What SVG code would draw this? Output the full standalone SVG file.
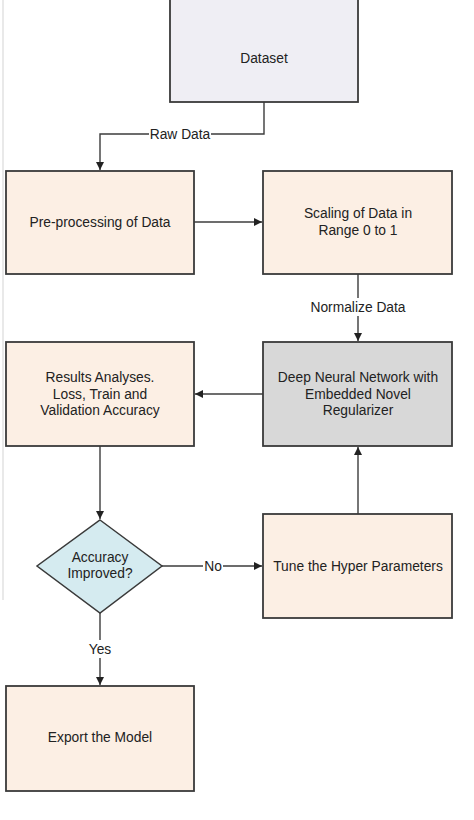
<svg xmlns="http://www.w3.org/2000/svg" width="474" height="820" viewBox="0 0 474 820">
<style>
.box{stroke:#3a3a3a;stroke-width:1.8}
.peach{fill:#fcefe4}
.t{font-family:"Liberation Sans",Arial,sans-serif;font-size:13.8px;fill:#222;text-anchor:middle;dominant-baseline:central}
.c{fill:none;stroke:#3c3c3c;stroke-width:1.4}
.lbl{font-family:"Liberation Sans",Arial,sans-serif;font-size:13.8px;fill:#222;text-anchor:middle;dominant-baseline:central}
</style>
<defs>
<marker id="ah" viewBox="0 0 10 10" refX="10" refY="5" markerWidth="8" markerHeight="8" markerUnits="userSpaceOnUse" orient="auto">
<path d="M0,0 L10,5 L0,10 z" fill="#222"/>
</marker>
</defs>
<rect width="474" height="820" fill="#fff"/>
<line x1="3" y1="0" x2="3" y2="600" stroke="#e2e2e2" stroke-width="1.5"/>
<g id="connectors">
<path class="c" d="M264,102 V134 H211 M149,134 H100 V170" marker-end="url(#ah)"/>
<text class="lbl" x="180" y="134">Raw Data</text>
<path class="c" d="M194,222 H262" marker-end="url(#ah)"/>
<path class="c" d="M358,274 V298 M358,316 V341" marker-end="url(#ah)"/>
<text class="lbl" x="358" y="307">Normalize Data</text>
<path class="c" d="M263,394 H195" marker-end="url(#ah)"/>
<path class="c" d="M100,446 V519" marker-end="url(#ah)"/>
<path class="c" d="M162,566 H203 M223,566 H262" marker-end="url(#ah)"/>
<text class="lbl" x="213" y="566">No</text>
<path class="c" d="M358,514 V447" marker-end="url(#ah)"/>
<path class="c" d="M100,613 V640 M100,658 V685" marker-end="url(#ah)"/>
<text class="lbl" x="100" y="649">Yes</text>
</g>
<g id="dataset">
<rect class="box" x="170" y="-2" width="188" height="104" fill="#efeef4"/>
<text class="t" x="264" y="58">Dataset</text>
</g>
<g id="preprocessing">
<rect class="box peach" x="6" y="171" width="188" height="103"/>
<text class="t" x="100" y="222">Pre-processing of Data</text>
</g>
<g id="scaling">
<rect class="box peach" x="263" y="171" width="189" height="103"/>
<text class="t" x="358" y="213">Scaling of Data in</text>
<text class="t" x="358" y="230">Range 0 to 1</text>
</g>
<g id="dnn">
<rect class="box" x="263" y="342" width="189" height="104" fill="#d8d8d8"/>
<text class="t" x="358" y="377">Deep Neural Network with</text>
<text class="t" x="358" y="394">Embedded Novel</text>
<text class="t" x="358" y="410">Regularizer</text>
</g>
<g id="results">
<rect class="box peach" x="6" y="342" width="188" height="104"/>
<text class="t" x="100" y="377">Results Analyses.</text>
<text class="t" x="100" y="394">Loss, Train and</text>
<text class="t" x="100" y="410">Validation Accuracy</text>
</g>
<g id="decision">
<polygon points="100,520 162,566 100,613 37,566" fill="#d5ebf0" stroke="#3a3a3a" stroke-width="1.5"/>
<text class="t" x="100" y="557">Accuracy</text>
<text class="t" x="100" y="573">Improved?</text>
</g>
<g id="tune">
<rect class="box peach" x="263" y="514" width="189" height="104"/>
<text class="t" x="358" y="566">Tune the Hyper Parameters</text>
</g>
<g id="export">
<rect class="box peach" x="6" y="686" width="188" height="105"/>
<text class="t" x="100" y="737">Export the Model</text>
</g>
</svg>
